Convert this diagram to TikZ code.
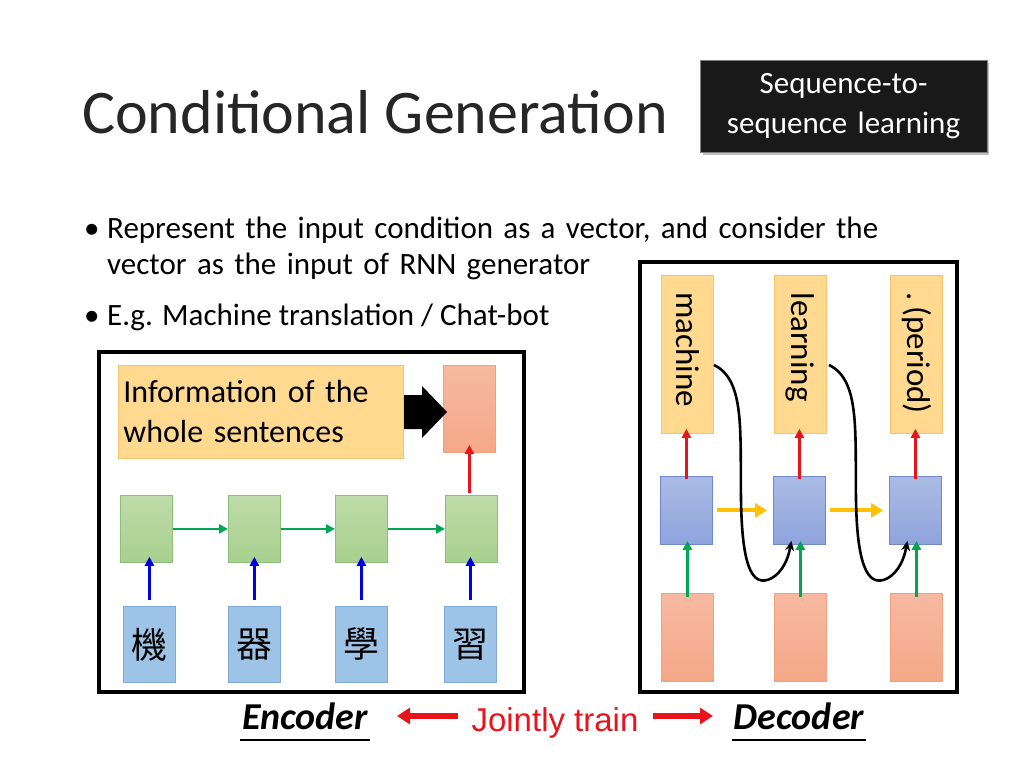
\documentclass[tikz,border=0pt]{standalone}
\usepackage{fontspec}
\setmainfont{Carlito}
\newfontfamily\cjk{Noto Sans CJK TC}
\newfontfamily\arialf{Liberation Sans}
\usetikzlibrary{arrows.meta,shadows}
\definecolor{ylw}{HTML}{FFD98F}
\definecolor{ylwb}{HTML}{F4C36A}
\definecolor{sal}{HTML}{F4A888}
\definecolor{salb}{HTML}{F0A07E}
\definecolor{grn}{HTML}{A8D08D}
\definecolor{grnb}{HTML}{8CC07A}
\definecolor{blu}{HTML}{9DC3E6}
\definecolor{blub}{HTML}{7FA9D8}
\definecolor{dblu}{HTML}{8EA4DC}
\definecolor{dblub}{HTML}{6F88CC}
\definecolor{ared}{HTML}{E8141B}
\definecolor{agrn}{HTML}{00A650}
\definecolor{aylw}{HTML}{FFC000}
\begin{document}
\begin{tikzpicture}[x=1pt,y=-1pt,
  box/.style={draw,line width=0.8pt,inner sep=0pt,anchor=north west},
  ybox/.style={box,fill=ylw,draw=ylwb},
  sbox/.style={box,top color=sal!80!white,bottom color=sal,draw=salb},
  gbox/.style={box,top color=grn!75!white,bottom color=grn,draw=grnb},
  bbox/.style={box,fill=blu,draw=blub},
  dbox/.style={box,top color=dblu!75!white,bottom color=dblu,draw=dblub},
  arr/.style={-{Triangle[length=9pt,width=9pt]},line width=2.8pt},
  frame/.style={draw,line width=4pt}]
\useasboundingbox (0,0) rectangle (1024,768);
\node[anchor=base west,inner sep=0pt,font=\fontsize{62}{66}\selectfont,text=black!85] (title) at (82,133) {Conditional Generation};
\node[anchor=north west,fill=black!90,draw=gray,minimum width=284pt,minimum height=92pt,text width=280pt,align=center,text=white,font=\fontsize{31}{40}\selectfont,drop shadow] (seq) at (700,60) {Sequence-to-\\sequence learning};
\node[anchor=base west,inner sep=0pt,font=\fontsize{31}{36}\selectfont,text width=880pt,align=left] (b1) at (107,238) {Represent the input condition as a vector, and consider the\\vector as the input of RNN generator};
\node[anchor=base east,font=\fontsize{31}{36}\selectfont] (d1) at (103,238) {•};
\node[anchor=base west,inner sep=0pt,font=\fontsize{31}{36}\selectfont] (b2) at (107,325) {E.g. Machine translation / Chat-bot};
\node[anchor=base east,font=\fontsize{31}{36}\selectfont] (d2) at (103,325) {•};
% encoder
\draw[frame] (99,352) rectangle (524,692);
\node[ybox,minimum width=285pt,minimum height=93pt,text width=275pt,align=left,font=\fontsize{32}{40}\selectfont] (info) at (118,365) {Information of the\\whole sentences};
\node[sbox,minimum width=52pt,minimum height=87pt] (ec) at (443,365) {};
\fill (404,395) -- (422,395) -- (422,386) -- (447,412) -- (422,438) -- (422,429) -- (404,429) -- cycle;
\foreach \i/\x/\xb/\c in {1/120/123/機,2/228/228/器,3/335/335/學,4/445/444/習}{
  \node[gbox,minimum width=52pt,minimum height=67pt] (g\i) at (\x,495) {};
  \node[bbox,minimum width=52pt,minimum height=76pt,font=\cjk\fontsize{36}{36}\selectfont] (w\i) at (\xb,606) {\c};
  \draw[arr,blue!90!black] ([yshift=6pt]w\i.north) -- ([yshift=6pt]w\i.north |- g\i.south);
}
\draw[arr,agrn] (g1) -- (g2);
\draw[arr,agrn] (g2) -- (g3);
\draw[arr,agrn] (g3) -- (g4);
\draw[arr,ared] ([yshift=2pt]ec.south |- g4.north) -- ([yshift=8pt]ec.south);
% decoder
\draw[frame] (640,262) rectangle (957,692);
\foreach \i/\x/\t in {1/661/machine,2/774/learning,3/890/{.\,(period)}}{
  \node[ybox,minimum width=52pt,minimum height=158pt] (y\i) at (\x,275) {};
  \node[rotate=-90,anchor=west,font=\fontsize{33}{34}\selectfont] (yt\i) at ([yshift=-14pt]y\i.north) {\t};
  \node[dbox,minimum width=52pt,minimum height=68pt] (h\i) at (\x-1,476) {};
  \node[sbox,minimum width=52pt,minimum height=88pt] (s\i) at (\x,593) {};
  \draw[arr,ared] ([yshift=-3pt]h\i.north) -- ([yshift=5pt]h\i.north |- y\i.south);
  \draw[arr,agrn] ([yshift=-4pt]s\i.north) -- ([yshift=4pt]s\i.north |- h\i.south);
}
\draw[-{Triangle[length=12pt,width=14pt]},aylw,line width=4pt] ([xshift=4pt]h1.east) -- ([xshift=-6pt]h2.west);
\draw[-{Triangle[length=12pt,width=14pt]},aylw,line width=4pt] ([xshift=4pt]h2.east) -- ([xshift=-6pt]h3.west);
\coordinate (c1) at (714,365);
\coordinate (c2) at (829,365);
\draw[-{Stealth[length=10pt,width=9pt]},line width=2.6pt] (c1) .. controls (745,380) and (740,430) .. (741,500) .. controls (742,560) and (750,590) .. (772,578) .. controls (782,572) and (788,560) .. ([xshift=-8pt,yshift=4pt]h2.south);
\draw[-{Stealth[length=10pt,width=9pt]},line width=2.6pt] (c2) .. controls (860,380) and (855,430) .. (856,500) .. controls (857,560) and (866,590) .. (888,578) .. controls (898,572) and (904,560) .. ([xshift=-8pt,yshift=4pt]h3.south);
% labels
\node[font=\bfseries\itshape\fontsize{38}{40}\selectfont,anchor=base] (enc) at (305,729) {Encoder};
\draw[line width=1.3pt] (240,740) -- (370,740);
\node[font=\bfseries\itshape\fontsize{38}{40}\selectfont,anchor=base] (dec) at (799,729) {Decoder};
\draw[line width=1.3pt] (732,740) -- (866,740);
\node[font=\arialf\fontsize{33}{34}\selectfont,text=ared,anchor=base] (jt) at (555,731) {Jointly train};
\draw[-{Triangle[length=13pt,width=16pt]},line width=5.5pt,ared] (458,716) -- (397,716);
\draw[-{Triangle[length=13pt,width=16pt]},line width=5.5pt,ared] (653,716) -- (713,716);
\end{tikzpicture}
\end{document}
